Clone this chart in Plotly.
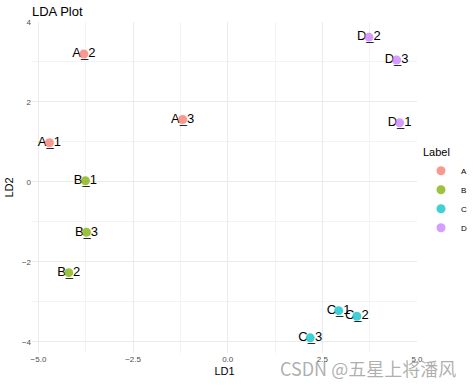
import plotly.graph_objects as go

labels = ["A", "B", "C", "D"]
names = {
    "A": ["A_1", "A_2", "A_3"],
    "B": ["B_1", "B_2", "B_3"],
    "C": ["C_1", "C_2", "C_3"],
    "D": ["D_1", "D_2", "D_3"],
}
ld1 = {
    "A": [-4.71, -3.80, -1.19],
    "B": [-3.76, -4.20, -3.73],
    "C": [2.93, 3.41, 2.18],
    "D": [4.54, 3.73, 4.46],
}
ld2 = {
    "A": [0.98, 3.20, 1.56],
    "B": [0.03, -2.27, -1.26],
    "C": [-3.22, -3.36, -3.90],
    "D": [1.48, 3.62, 3.05],
}
colors = {"A": "#F8766D", "B": "#7CAE00", "C": "#00BFC4", "D": "#C77CFF"}
x_ticks = [-5.0, -2.5, 0.0, 2.5, 5.0]
x_ticktext = ["\u22125.0", "\u22122.5", "0.0", "2.5", "5.0"]
y_ticks = [-4, -2, 0, 2, 4]
y_ticktext = ["\u22124", "\u22122", "0", "2", "4"]

fig = go.Figure()
# text labels first (drawn beneath points)
for lab in labels:
    fig.add_trace(go.Scatter(
        x=ld1[lab], y=ld2[lab], mode="text", text=names[lab],
        textposition="middle center",
        textfont=dict(family="Liberation Sans, Arial, sans-serif", size=13, color="black"),
        showlegend=False, hoverinfo="skip",
    ))
for lab in labels:
    fig.add_trace(go.Scatter(
        x=ld1[lab], y=ld2[lab], mode="markers", name=lab,
        marker=dict(color=colors[lab], size=9, opacity=0.75, line=dict(width=0)),
    ))

grid = "#EBEBEB"
fig.update_layout(
    width=473, height=387,
    margin=dict(l=32, r=56, t=22, b=34, autoexpand=False),
    paper_bgcolor="white", plot_bgcolor="white",
    font=dict(family="Liberation Sans, Arial, sans-serif", color="black"),
    title=dict(text="LDA Plot", x=32 / 473, xanchor="left", y=1 - 11 / 387, yanchor="middle",
               font=dict(size=13, color="black")),
    xaxis=dict(range=[-5.17, 5.0], tickvals=x_ticks, ticktext=x_ticktext,
               showgrid=True, gridcolor=grid, gridwidth=1,
               minor=dict(dtick=1.25, showgrid=True, gridcolor="#F3F3F3", gridwidth=0.6),
               zeroline=False, showline=False, ticks="",
               tickfont=dict(size=8, color="#4D4D4D"),
               title=dict(text="LD1", font=dict(size=11, color="black"), standoff=4)),
    yaxis=dict(range=[-4.28, 4.0], tickvals=y_ticks, ticktext=y_ticktext,
               showgrid=True, gridcolor=grid, gridwidth=1,
               minor=dict(dtick=1, showgrid=True, gridcolor="#F3F3F3", gridwidth=0.6),
               zeroline=False, showline=False, ticks="",
               tickfont=dict(size=8, color="#4D4D4D"),
               title=dict(text="LD2", font=dict(size=11, color="black"), standoff=6)),
    legend=dict(title=dict(text="Label", font=dict(size=11)), xref="container",
                x=421 / 473, xanchor="left", yref="container",
                y=1 - 142 / 387, yanchor="top", font=dict(size=8), tracegroupgap=0,
                itemsizing="trace", itemwidth=30, bgcolor="rgba(0,0,0,0)"),
)
fig.add_annotation(text="CSDN @五星上将潘风", xref="paper", yref="paper",
                   x=(458 - 32) / 385, y=(387 - 34 - 368) / 331, xanchor="right",
                   yanchor="middle", showarrow=False,
                   font=dict(family="Noto Sans CJK SC, sans-serif", size=18,
                             color="rgba(140,140,140,0.7)"))
fig.write_html("out.html", config={"displayModeBar": False},
               post_script="document.body.style.margin='0';document.body.style.overflow='hidden';")
